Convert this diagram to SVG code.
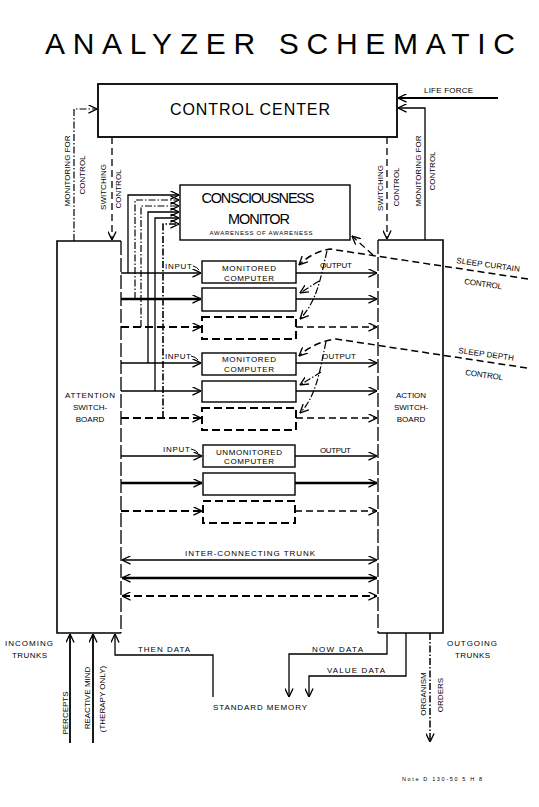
<svg xmlns="http://www.w3.org/2000/svg" width="539" height="807" viewBox="0 0 539 807">
<style>
text{font-family:"Liberation Sans","DejaVu Sans",sans-serif;fill:#000}
.lbl{font-size:8px}
.sm{font-size:6px}
.box{fill:#fff;stroke:#000;stroke-width:1.4}
.dbox{fill:#fff;stroke:#000;stroke-width:2;stroke-dasharray:8 4}
.ln{fill:none;stroke:#000;stroke-width:1.3}
.bd{fill:none;stroke:#000;stroke-width:2.4}
.ds{fill:none;stroke:#000;stroke-width:2.2;stroke-dasharray:8 4}
.dt{fill:none;stroke:#000;stroke-width:1.3;stroke-dasharray:7 4}
.dd{fill:none;stroke:#000;stroke-width:1.2;stroke-dasharray:7 2 1.5 2}
.a{marker-end:url(#ah)}
.a2{marker-start:url(#ah);marker-end:url(#ah)}
</style>
<defs>
<marker id="ah" viewBox="0 0 10 10" refX="9.5" refY="5" markerWidth="9" markerHeight="9" markerUnits="userSpaceOnUse" orient="auto-start-reverse">
<path d="M0,0.5 L9.5,5 L0,9.5" fill="none" stroke="#000" stroke-width="1.5" stroke-dasharray="none"/>
</marker>
</defs>
<rect width="539" height="807" fill="#fff"/>
<text x="45" y="54" font-size="30" textLength="470" lengthAdjust="spacing">ANALYZER SCHEMATIC</text>

<g id="attention-switchboard">
<polyline class="ln" points="121,241 57,241 57,633 121,633" style="stroke-width:1.6"/>
<line class="dt" x1="121" y1="241" x2="121" y2="633" style="stroke-dasharray:14 3"/>
<text class="lbl" x="90" y="398" text-anchor="middle" textLength="50">ATTENTION</text>
<text class="lbl" x="90" y="410" text-anchor="middle">SWITCH-</text>
<text class="lbl" x="90" y="422" text-anchor="middle">BOARD</text>
</g>

<g id="action-switchboard">
<polyline class="ln" points="378,240 443,240 443,633 378,633" style="stroke-width:1.6"/>
<line class="dt" x1="378" y1="240" x2="378" y2="633" style="stroke-dasharray:14 3"/>
<text class="lbl" x="411" y="398" text-anchor="middle">ACTION</text>
<text class="lbl" x="411" y="410" text-anchor="middle">SWITCH-</text>
<text class="lbl" x="411" y="422" text-anchor="middle">BOARD</text>
</g>

<g id="connectors">
<line class="ln a" x1="498" y1="98" x2="398" y2="98" style="stroke-width:1.8"/>
<text class="lbl" x="424" y="93" textLength="49">LIFE FORCE</text>
<polyline class="ln a" points="425,240 425,108 398,108"/>
<polyline class="dd a" points="74,241 74,109 97,109"/>
<line class="dt a" x1="112" y1="137" x2="112" y2="240"/>
<line class="dt a" x1="387" y1="137" x2="387" y2="239"/>

<polyline class="ln a" points="128,273 128,195 179,195"/>
<polyline class="dd a" points="135,299 135,200 179,200"/>
<polyline class="dd a" points="141,327 141,206 179,206"/>
<polyline class="ln a" points="148,363 148,212 179,212"/>
<polyline class="ln a" points="155,391 155,218 179,218"/>
<polyline class="dd a" points="163,418 163,224 179,224" style="stroke-width:1.6"/>

<line class="ln a" x1="121" y1="273" x2="201" y2="273"/>
<line class="bd a" x1="121" y1="299" x2="201" y2="299"/>
<line class="ds a" x1="121" y1="327" x2="201" y2="327"/>
<line class="ln a" x1="121" y1="363" x2="201" y2="363"/>
<line class="ln a" x1="121" y1="391" x2="201" y2="391"/>
<line class="ds a" x1="121" y1="418" x2="201" y2="418"/>
<line class="ln a" x1="121" y1="456" x2="202" y2="456"/>
<line class="bd a" x1="121" y1="483" x2="202" y2="483"/>
<line class="ds a" x1="121" y1="511" x2="202" y2="511"/>

<line class="ln a" x1="296" y1="273" x2="377" y2="273"/>
<line class="ln a" x1="296" y1="299" x2="377" y2="299"/>
<line class="dt a" x1="296" y1="327" x2="377" y2="327"/>
<line class="ln a" x1="296" y1="363" x2="377" y2="363"/>
<line class="ln a" x1="296" y1="391" x2="377" y2="391"/>
<line class="dt a" x1="296" y1="418" x2="377" y2="418"/>
<line class="ln a" x1="295" y1="456" x2="377" y2="456" style="stroke-width:1.7"/>
<line class="bd a" x1="295" y1="483" x2="377" y2="483"/>
<line class="dt a" x1="295" y1="511" x2="377" y2="511"/>

<line class="ln a2" x1="122" y1="560" x2="377" y2="560"/>
<line class="bd a2" x1="122" y1="578" x2="377" y2="578"/>
<line class="ds a2" x1="122" y1="596" x2="377" y2="596"/>

<path class="ln" d="M193,266 Q197,267 199,270" style="stroke-width:1"/>
<path class="ln" d="M191,356 Q196,357 198,360" style="stroke-width:1"/>
<path class="ln" d="M191,449 Q196,450 198,453" style="stroke-width:1"/>

<path class="dt a" d="M528,279 L330,249 Q312,252 299,265" style="stroke-width:1.5"/>
<line class="dt a" x1="373" y1="255" x2="352" y2="236"/>
<path class="dd a" d="M327,251 C321,275 318,300 300,319"/>
<path class="dd a" d="M319,281 L300,293"/>
<path class="dt a" d="M527,368 L336,339 Q314,342 299,356" style="stroke-width:1.5"/>
<path class="dd a" d="M326,342 C321,362 318,395 300,413"/>
<path class="dd a" d="M321,372 L300,385"/>

<line class="ln a" x1="70" y1="743" x2="70" y2="634" style="stroke-width:1.8"/>
<line class="ln a" x1="93" y1="743" x2="93" y2="634" style="stroke-width:1.8"/>
<polyline class="ln a" points="213,697 213,655 115,655 115,634"/>
<polyline class="ln a" points="387,633 387,654 289,654 289,697"/>
<polyline class="ln a" points="406,633 406,676 309,676 309,697"/>
<line class="dd a" x1="430" y1="633" x2="430" y2="742" style="stroke-width:1.5"/>
</g>

<g id="control-center">
<rect class="box" x="98" y="84" width="299" height="53" style="stroke-width:1.8"/>
<text x="250" y="115" font-size="16" text-anchor="middle" textLength="160">CONTROL CENTER</text>
</g>

<g id="consciousness-monitor">
<rect class="box" x="180" y="185" width="170" height="55"/>
<text x="258" y="203" font-size="14.5" text-anchor="middle" textLength="113">CONSCIOUSNESS</text>
<text x="259" y="224" font-size="14.5" text-anchor="middle" textLength="62">MONITOR</text>
<text class="sm" x="261" y="235" text-anchor="middle" textLength="103">AWARENESS OF AWARENESS</text>
</g>

<g id="monitored-computer-1">
<rect class="box" x="202" y="261" width="94" height="22"/>
<text class="lbl" x="249" y="271" text-anchor="middle" textLength="54">MONITORED</text>
<text class="lbl" x="249" y="281" text-anchor="middle" textLength="50">COMPUTER</text>
<rect class="box" x="202" y="288" width="94" height="23"/>
<rect class="dbox" x="202" y="317" width="94" height="22"/>
</g>

<g id="monitored-computer-2">
<rect class="box" x="202" y="353" width="94" height="22"/>
<text class="lbl" x="249" y="362" text-anchor="middle" textLength="54">MONITORED</text>
<text class="lbl" x="249" y="372" text-anchor="middle" textLength="50">COMPUTER</text>
<rect class="box" x="202" y="381" width="94" height="21"/>
<rect class="dbox" x="202" y="408" width="94" height="22"/>
</g>

<g id="unmonitored-computer">
<rect class="box" x="203" y="445" width="92" height="22"/>
<text class="lbl" x="249" y="455" text-anchor="middle" textLength="66">UNMONITORED</text>
<text class="lbl" x="249" y="464" text-anchor="middle" textLength="50">COMPUTER</text>
<rect class="box" x="203" y="473" width="92" height="22"/>
<rect class="dbox" x="203" y="501" width="92" height="22"/>
</g>

<g id="labels">
<text class="lbl" x="70" y="171" text-anchor="middle" transform="rotate(-90 70 171)">MONITORING FOR</text>
<text class="lbl" x="85" y="175" text-anchor="middle" transform="rotate(-90 85 175)">CONTROL</text>
<text class="lbl" x="106" y="187" text-anchor="middle" transform="rotate(-90 106 187)">SWITCHING</text>
<text class="lbl" x="121" y="189" text-anchor="middle" transform="rotate(-90 121 189)">CONTROL</text>
<text class="lbl" x="383" y="188" text-anchor="middle" transform="rotate(-90 383 188)">SWITCHING</text>
<text class="lbl" x="399" y="187" text-anchor="middle" transform="rotate(-90 399 187)">CONTROL</text>
<text class="lbl" x="421" y="171" text-anchor="middle" transform="rotate(-90 421 171)">MONITORING FOR</text>
<text class="lbl" x="435" y="171" text-anchor="middle" transform="rotate(-90 435 171)">CONTROL</text>

<text class="lbl" x="165" y="269" textLength="27">INPUT</text>
<text class="lbl" x="165" y="359" textLength="26">INPUT</text>
<text class="lbl" x="163" y="452" textLength="27">INPUT</text>
<text class="lbl" x="320" y="268" textLength="32">OUTPUT</text>
<text class="lbl" x="322" y="359" textLength="34">OUTPUT</text>
<text class="lbl" x="320" y="453" textLength="31">OUTPUT</text>
<text class="lbl" x="185" y="556" textLength="130">INTER-CONNECTING TRUNK</text>

<text class="lbl" x="456" y="263" textLength="64" transform="rotate(8 456 263)">SLEEP CURTAIN</text>
<text class="lbl" x="464" y="284" textLength="38" transform="rotate(8 464 284)">CONTROL</text>
<text class="lbl" x="458" y="353" textLength="56" transform="rotate(8 458 353)">SLEEP DEPTH</text>
<text class="lbl" x="465" y="375" textLength="38" transform="rotate(8 465 375)">CONTROL</text>

<text class="lbl" x="5" y="646" textLength="48">INCOMING</text>
<text class="lbl" x="12" y="658" textLength="35">TRUNKS</text>
<text class="lbl" x="138" y="652" textLength="52">THEN DATA</text>
<text class="lbl" x="68" y="713" text-anchor="middle" transform="rotate(-90 68 713)">PERCEPTS</text>
<text class="lbl" x="90" y="698" text-anchor="middle" transform="rotate(-90 90 698)">REACTIVE MIND</text>
<text class="lbl" x="105" y="699" text-anchor="middle" transform="rotate(-90 105 699)">(THERAPY ONLY)</text>
<text class="lbl" x="213" y="710" textLength="94">STANDARD MEMORY</text>
<text class="lbl" x="312" y="652" textLength="51">NOW DATA</text>
<text class="lbl" x="327" y="673" textLength="58">VALUE DATA</text>
<text class="lbl" x="447" y="646" textLength="50">OUTGOING</text>
<text class="lbl" x="455" y="658" textLength="35">TRUNKS</text>
<text class="lbl" x="426" y="694" text-anchor="middle" transform="rotate(-90 426 694)">ORGANISM</text>
<text class="lbl" x="443" y="695" text-anchor="middle" transform="rotate(-90 443 695)">ORDERS</text>
<text x="402" y="781" font-size="5.5" textLength="80">Note D   130-50   5 H 8</text>
</g>
</svg>
